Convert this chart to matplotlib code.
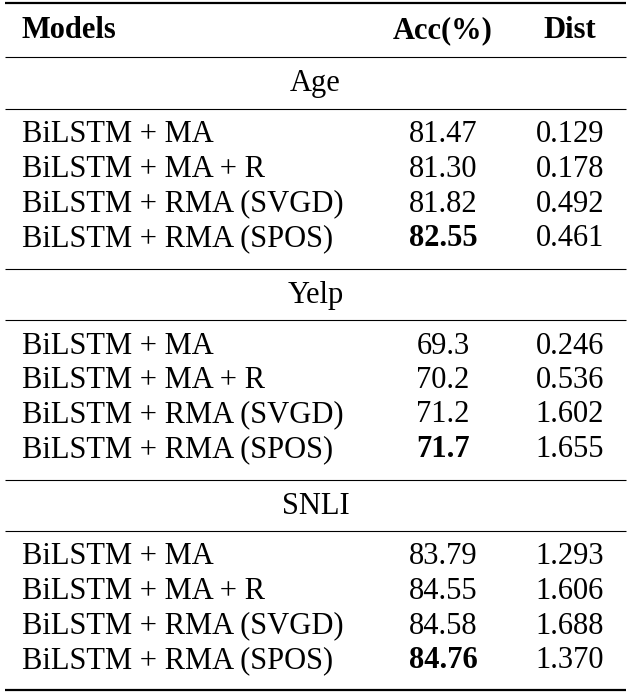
import matplotlib.pyplot as plt

plt.rcParams['font.family'] = ['Liberation Serif', 'DejaVu Serif']

models = ['BiLSTM + MA', 'BiLSTM + MA + R', 'BiLSTM + RMA (SVGD)', 'BiLSTM + RMA (SPOS)']
datasets = ['Age', 'Yelp', 'SNLI']
acc = [['81.47', '81.30', '81.82', '82.55'],
       ['69.3', '70.2', '71.2', '71.7'],
       ['83.79', '84.55', '84.58', '84.76']]
dist = [['0.129', '0.178', '0.492', '0.461'],
        ['0.246', '0.536', '1.602', '1.655'],
        ['1.293', '1.606', '1.688', '1.370']]
best = [3, 3, 3]

W, H = 631, 693
fig = plt.figure(figsize=(W / 100, H / 100), dpi=100)
ax = fig.add_axes([0, 0, 1, 1])
ax.set_xlim(0, W)
ax.set_ylim(H, 0)
ax.axis('off')

fs = 22
xm, xa, xd = 22, 443, 570
x0, x1 = 5, 626

def rule(y, lw=0.8):
    ax.plot([x0, x1], [y, y], color='black', lw=lw, solid_capstyle='butt')

rule(3, 1.6)
ax.text(xm, 31, 'Models', fontsize=fs, fontweight='bold', va='center', ha='left')
ax.text(xa, 31, 'Acc(%)', fontsize=fs, fontweight='bold', va='center', ha='center')
ax.text(xd, 31, 'Dist', fontsize=fs, fontweight='bold', va='center', ha='center')
rule(57)

titles_y = [84, 295, 506]
for i, name in enumerate(datasets):
    ty = titles_y[i]
    ax.text(W / 2, ty, name, fontsize=fs, va='center', ha='center')
    rule(ty + 25)
    for j, m in enumerate(models):
        y = ty + 51 + j * 34.5
        ax.text(xm, y, m, fontsize=fs, va='center', ha='left')
        ax.text(xa, y, acc[i][j], fontsize=fs, va='center', ha='center',
                fontweight='bold' if j == best[i] else 'normal')
        ax.text(xd, y, dist[i][j], fontsize=fs, va='center', ha='center')
    if i < len(datasets) - 1:
        rule(ty + 185)

rule(690, 1.6)
fig.savefig('out.png', dpi=100)
